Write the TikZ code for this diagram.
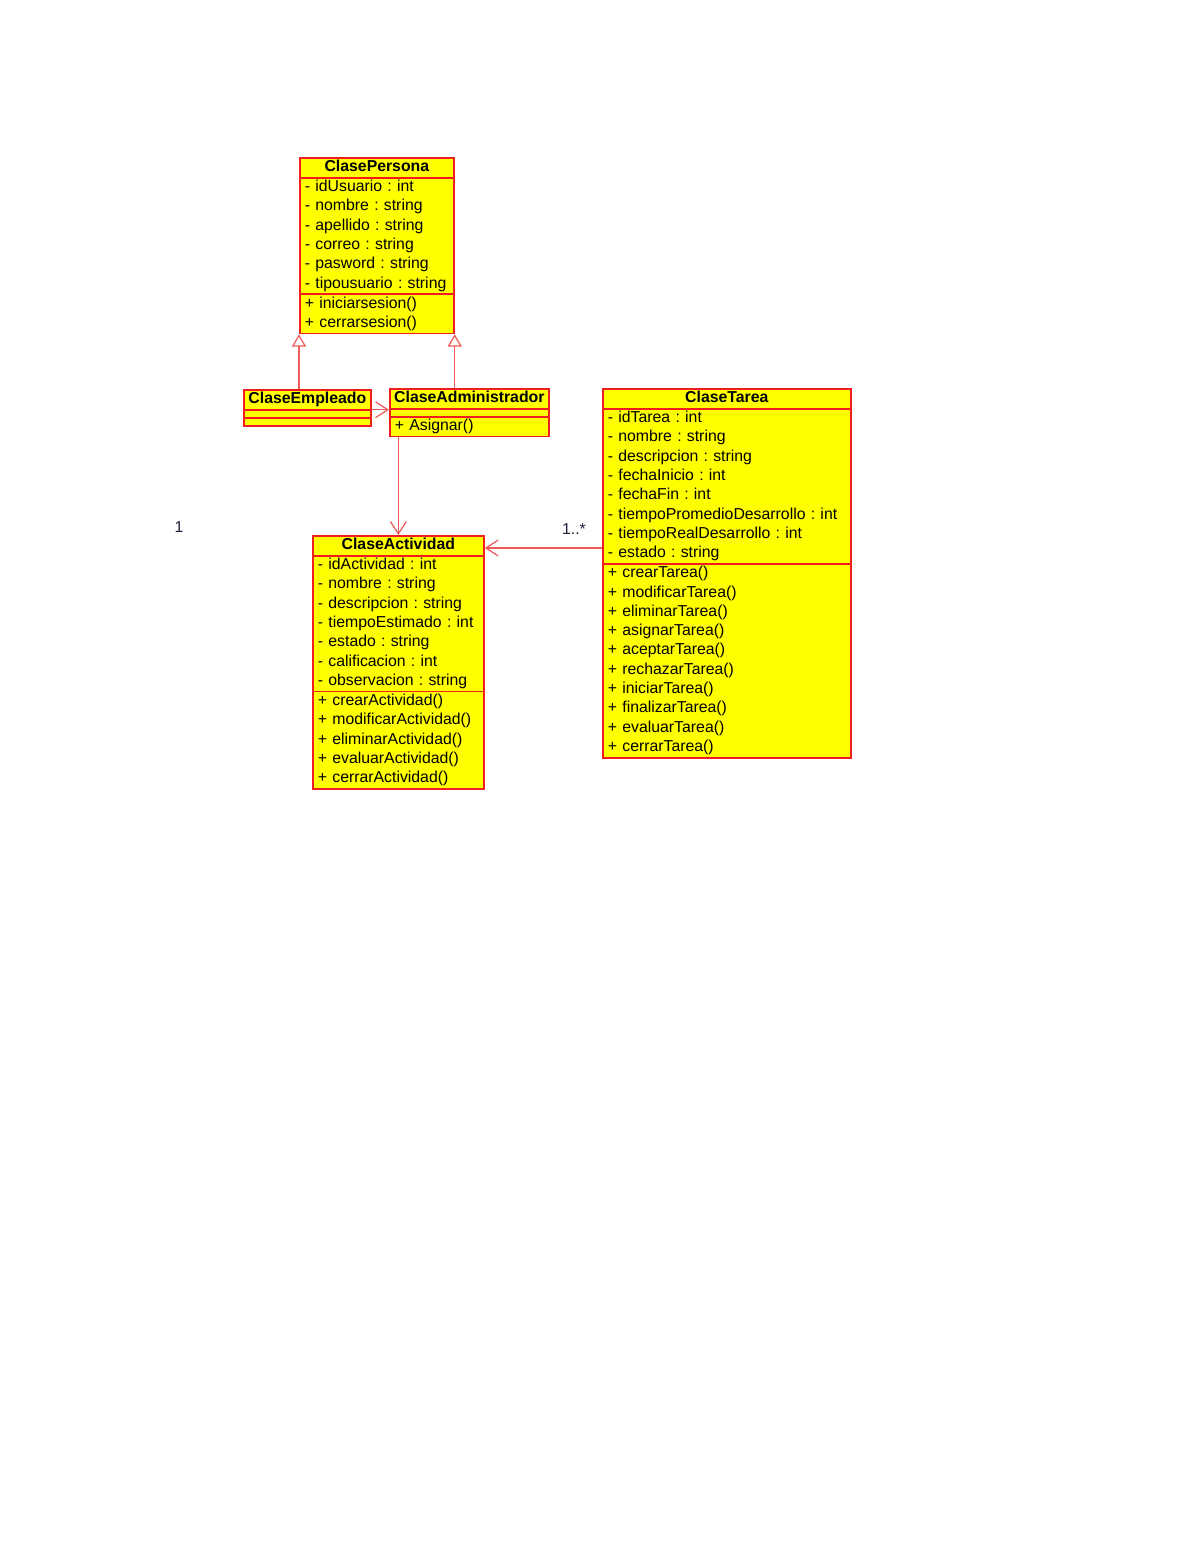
\documentclass[tikz,border=0pt]{standalone}
\usepackage{fontspec}
\setmainfont{Liberation Sans}
\usetikzlibrary{shapes,shapes.multipart,arrows.meta}
\definecolor{classfill}{RGB}{255,255,0}
\definecolor{classline}{RGB}{240,30,30}
\definecolor{linkline}{RGB}{240,90,90}
\definecolor{multtext}{RGB}{30,30,60}

\begin{document}
\begin{tikzpicture}
[x=0.02cm,y=-0.02cm,every node/.style={font=\fontsize{9}{11}\selectfont\frenchspacing,inner sep=0pt},
umlclass/.style={rectangle split,rectangle split parts=3,draw=classline,line width=1pt,
	fill=classfill,anchor=north west,inner xsep=0.1cm,inner ysep=-0.35pt,align=left,text width=#1},
gen/.style={draw=linkline,line width=0.7pt,-{Triangle[open,length=7pt,width=8pt,fill=white]}},
assoc/.style={draw=linkline,line width=0.7pt,-{Straight Barb[length=7pt,width=9pt]}}]
\useasboundingbox (0,0) rectangle (1200,1553);

\node[umlclass=2.88cm] (persona) at (299,157)
{\makebox[\linewidth]{\bfseries\strut ClasePersona}
\nodepart{second}\strut - idUsuario : int\\
- nombre : string\\
- apellido : string\\
- correo : string\\
- pasword : string\\
- tipousuario : string\strut
\nodepart{third}\strut + iniciarsesion()\\
+ cerrarsesion()\strut};

\node[umlclass=2.34cm] (empleado) at (243,389)
{\makebox[\linewidth]{\bfseries\strut ClaseEmpleado}
\nodepart{second}\rule{0pt}{0.15cm}
\nodepart{third}\rule{0pt}{0.16cm}};

\node[umlclass=2.98cm] (admin) at (389,388)
{\makebox[\linewidth]{\bfseries\strut ClaseAdministrador}
\nodepart{second}\rule{0pt}{0.15cm}
\nodepart{third}\strut + Asignar()\strut};

\node[umlclass=4.76cm] (tarea) at (602,388)
{\makebox[\linewidth]{\bfseries\strut ClaseTarea}
\nodepart{second}\strut - idTarea : int\\
- nombre : string\\
- descripcion : string\\
- fechaInicio : int\\
- fechaFin : int\\
- tiempoPromedioDesarrollo : int\\
- tiempoRealDesarrollo : int\\
- estado : string\strut
\nodepart{third}\strut + crearTarea()\\
+ modificarTarea()\\
+ eliminarTarea()\\
+ asignarTarea()\\
+ aceptarTarea()\\
+ rechazarTarea()\\
+ iniciarTarea()\\
+ finalizarTarea()\\
+ evaluarTarea()\\
+ cerrarTarea()\strut};

\node[umlclass=3.22cm] (actividad) at (312,535)
{\makebox[\linewidth]{\bfseries\strut ClaseActividad}
\nodepart{second}\strut - idActividad : int\\
- nombre : string\\
- descripcion : string\\
- tiempoEstimado : int\\
- estado : string\\
- calificacion : int\\
- observacion : string\strut
\nodepart{third}\strut + crearActividad()\\
+ modificarActividad()\\
+ eliminarActividad()\\
+ evaluarActividad()\\
+ cerrarActividad()\strut};

\node[text=multtext] (multtarea) at (574,529) {1..*};
\node[text=multtext] (multlado) at (179,527) {1};

\coordinate (tarealink) at ([yshift=-0.26cm]actividad.north east);
\draw[gen] (persona.south west |- empleado.north) -- (persona.south west);
\draw[gen] (persona.south east |- admin.north) -- (persona.south east);
\draw[assoc] (empleado.text split east) -- (admin.west |- empleado.text split east);
\draw[assoc] (actividad.north |- admin.south) -- (actividad.north);
\draw[assoc] (tarea.west |- tarealink) -- (tarealink);
\end{tikzpicture}
\end{document}
